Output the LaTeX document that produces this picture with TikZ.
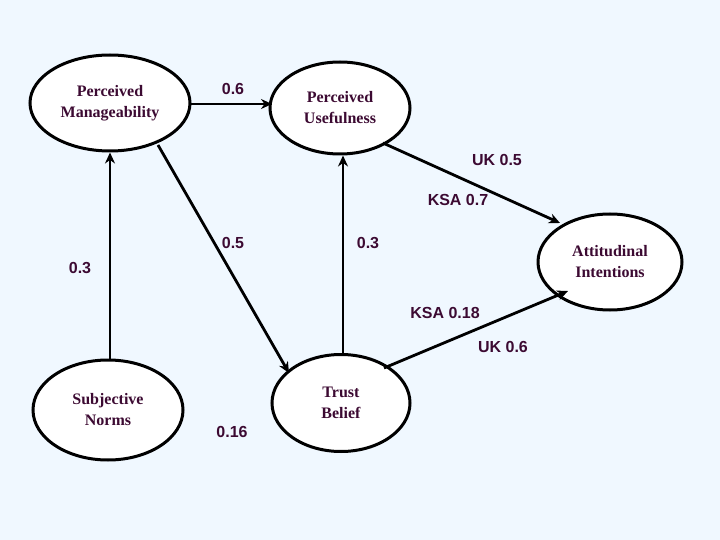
\documentclass[tikz,border=0pt]{standalone}
\usepackage{fontspec}
\setmainfont{Liberation Serif}
\newfontfamily\numfont{Liberation Sans}
\usetikzlibrary{shapes.geometric,arrows.meta}
\definecolor{bg}{HTML}{F0F8FF}
\definecolor{txt}{HTML}{3C0A32}
\tikzset{
  el/.style={ellipse,draw=black,line width=3pt,fill=white,inner sep=0pt,align=center,font=\bfseries\fontsize{16}{21}\selectfont,text=txt},
  lab/.style={font=\numfont\bfseries\fontsize{16}{18}\selectfont,text=txt},
  arr/.style={line width=2.8pt,-{Stealth[length=11pt,width=10pt]}}
}
\begin{document}
\begin{tikzpicture}[x=1pt,y=-1pt]
\fill[bg] (0,0) rectangle (720,540);
\useasboundingbox (0,0) rectangle (720,540);
\node[el,minimum width=160,minimum height=96] (pm) at (110,103) {Perceived\\Manageability};
\node[el,minimum width=140,minimum height=92] (pu) at (340,108) {Perceived\\Usefulness};
\node[el,minimum width=144,minimum height=96] (ai) at (610,262) {Attitudinal\\Intentions};
\node[el,minimum width=150,minimum height=100] (sn) at (108,410) {Subjective\\Norms};
\node[el,minimum width=138,minimum height=97] (tb) at (341,403) {Trust\\Belief};
\coordinate (p1) at (190,104); \coordinate (p2) at (272,104);
\coordinate (a1) at (383,143); \coordinate (a2) at (560,223);
\coordinate (b1) at (158,145); \coordinate (b2) at (289,373);
\coordinate (c1) at (384,368); \coordinate (c2) at (568,291);
\draw[arr] (p1) -- (p2);
\draw[arr] (a1) -- (a2);
\draw[arr] (b1) -- (b2);
\draw[arr] (sn.north -| 110,0) -- (pm.south -| 110,0);
\draw[arr] (tb.north -| 343,0) -- (pu.south -| 343,0);
\draw[arr] (c1) -- (c2);
\node[lab] (l1) at (233,89) {0.6};
\node[lab] (l2) at (497,160) {UK 0.5};
\node[lab] (l3) at (458,200) {KSA 0.7};
\node[lab] (l4) at (233,243) {0.5};
\node[lab] (l5) at (368,243) {0.3};
\node[lab] (l6) at (80,268) {0.3};
\node[lab] (l7) at (445,313) {KSA 0.18};
\node[lab] (l8) at (503,347) {UK 0.6};
\node[lab] (l9) at (232,432) {0.16};
\end{tikzpicture}
\end{document}
